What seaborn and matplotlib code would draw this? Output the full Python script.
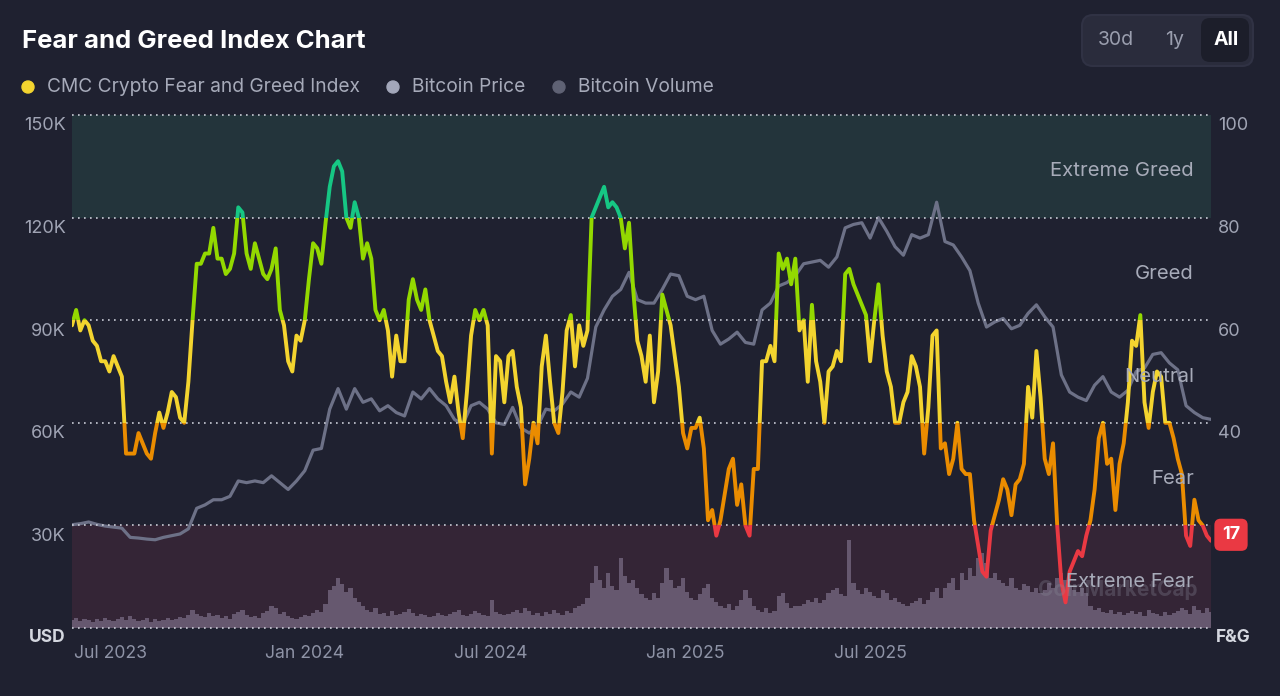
import matplotlib
matplotlib.use("Agg")
import matplotlib.pyplot as plt
import matplotlib.transforms as mtransforms
from matplotlib.patches import Rectangle, FancyBboxPatch, Circle
import pandas as pd
import seaborn as sns

# ---- data ----
start_date = "2023-06-29"

# CMC Crypto Fear and Greed Index, one reading every 4 days
fear_greed = [
    59, 62, 58, 60, 59, 56, 55, 52, 52, 50, 53, 51, 49, 34, 34, 34, 38, 36, 34, 33,
    38, 42, 39, 42, 46, 45, 41, 40, 48, 60, 71, 71, 73, 73, 78, 72,
    72, 69, 70, 73, 82, 81, 73, 70, 75, 72, 69, 68, 70, 74, 62, 59, 52, 50, 57, 56,
    60, 68, 75, 74, 71, 79, 86, 90, 91, 89, 80, 78, 83, 80, 72,
    75, 72, 62, 60, 62, 58, 49, 57, 52, 52, 64, 68, 64, 62, 66, 60, 57, 54, 53, 48,
    44, 49, 42, 37, 46, 57, 62, 60, 62, 59, 34, 53, 52, 44,
    53, 54, 47, 43, 28, 33, 40, 36, 51, 57, 48, 40, 38, 46, 58, 61, 51, 59, 55, 58,
    80, 82, 84, 86, 82, 83, 82, 80, 74, 79, 66, 56, 53, 48, 57,
    44, 50, 65, 62, 59, 53, 47, 38, 35, 39, 39, 41, 35, 21, 23, 18, 21, 26, 31, 33,
    24, 28, 20, 18, 31, 31, 52, 52, 55, 52, 73, 70, 72, 67, 72,
    58, 60, 48, 63, 52, 48, 40, 50, 51, 54, 52, 69, 70, 67, 65, 63, 61, 52, 60, 67,
    57, 50, 47, 40, 40, 44, 46, 53, 51, 47, 34, 43, 57, 58, 35,
    36, 30, 33, 40, 31, 30, 30, 21, 16, 11, 10, 19, 22, 25, 29, 27, 22, 28, 29, 32,
    47, 41, 54, 45, 33, 30, 36, 20, 9, 5, 11, 13, 15, 14, 18,
    21, 27, 37, 40, 32, 33, 23, 32, 36, 44, 56, 55, 61, 44, 39, 46, 50, 49, 40, 40,
    37, 33, 30, 18, 16, 25, 21, 20, 18, 17,
]

# Bitcoin price in thousands of USD, one reading every 8 days
btc_price_k = [
    30.2, 30.5, 31.0, 30.3, 29.8, 29.5, 29.2, 26.5, 26.3, 26.0, 25.8, 26.5, 27.0, 27.5,
    29.0, 35.0, 36.0, 37.5,
    37.5, 38.5, 43, 42.5, 43, 42.5, 44.5, 42.5, 40.5, 43, 46, 52, 52.5, 64, 70, 64, 70, 66,
    67, 63.5, 65, 63, 62, 69, 67, 70, 67, 65, 61, 59.5, 65, 66, 64, 60, 59.5,
    64.5, 58.5, 57, 59, 64, 63.5, 65.5, 69, 67.5, 73, 88, 93, 97, 99, 104, 96, 95,
    95, 99, 103.5, 103, 97, 96, 97, 87, 83, 84.5, 86.5, 83.5, 83, 93, 95, 100, 101, 103,
    106.5, 107, 107.5, 105.5, 108.5, 117, 118, 118.5, 114, 120, 116, 111.5, 109, 115,
    114, 115, 124.5, 113,
    112, 108.5, 104.5, 95, 88, 89.5, 90.5, 87.5, 88.5, 92, 94.5, 91, 88, 74, 69, 67.5, 66.5,
    71, 73.5, 69, 67.5, 69.5, 75, 76, 80, 80.5, 77.5, 75.5, 65, 63, 61.5, 61,
]

# Bitcoin volume in billions of USD, one reading every 4 days
btc_volume_b = [
    8, 10, 7, 9, 8, 6, 9, 7, 10, 8, 7, 9, 11, 8, 12, 9, 7, 8, 10, 6, 9, 7, 8, 10, 8, 9,
    11, 10, 13, 18, 14, 12, 11, 15, 12, 13,
    10, 12, 9, 14, 16, 18, 13, 11, 12, 10, 15, 17, 22, 20, 14, 16, 12, 10, 9, 11, 13,
    12, 15, 18, 16, 24, 38, 42, 50, 44, 36, 40, 30, 26, 22,
    18, 16, 20, 14, 15, 12, 17, 13, 14, 16, 19, 15, 12, 14, 13, 11, 12, 15, 13, 12, 14,
    16, 18, 13, 12, 14, 17, 15, 13, 12, 28, 16, 14, 13,
    14, 16, 18, 15, 20, 17, 13, 15, 12, 16, 14, 18, 15, 13, 17, 15, 20, 22, 24, 30, 45,
    62, 48, 40, 55, 42, 38, 70, 52, 45, 48, 40, 34, 30, 28,
    35, 30, 45, 60, 48, 40, 42, 50, 36, 30, 28, 34, 40, 44, 30, 26, 22, 20, 24, 18, 22,
    28, 38, 30, 22, 18, 16, 20, 15, 17, 32, 35, 25, 20, 22,
    22, 24, 28, 26, 30, 25, 28, 35, 38, 40, 34, 32, 88, 45, 38, 34, 40, 36, 32, 30, 38,
    35, 28, 30, 26, 24, 22, 25, 27, 30, 24, 28, 36, 40, 30,
    40, 45, 50, 38, 55, 48, 60, 52, 70, 75, 65, 50, 55, 48, 45, 42, 50, 40, 38, 44, 42,
    36, 40, 35, 38, 45, 40, 50, 55, 48, 42, 38, 36, 40, 35,
    22, 18, 20, 16, 15, 18, 14, 16, 13, 15, 17, 14, 16, 12, 18, 15, 14, 12, 16, 13, 15,
    17, 20, 18, 14, 22, 18, 15, 20, 16,
]

tick_dates = ["2023-07-01", "2024-01-01", "2024-07-01", "2025-01-01", "2025-07-01"]
tick_labels = ["Jul 2023", "Jan 2024", "Jul 2024", "Jan 2025", "Jul 2025"]
price_ticks = [30, 60, 90, 120, 150]
fg_ticks = [20, 40, 60, 80, 100]
fg_tick_labels = [40, 60, 80, 100]   # the 20 label sits under the value badge
zone_names = ["Extreme Fear", "Fear", "Neutral", "Greed", "Extreme Greed"]
zone_bounds = [0, 20, 40, 60, 80, 100]
zone_colors = ["#ea3943", "#ea8c00", "#f3d42f", "#93d900", "#16c784"]

# ---- style ----
BG = "#1f2130"
W, H = 1280, 696
sns.set_theme(style="dark", rc={
    "figure.facecolor": BG, "axes.facecolor": BG, "savefig.facecolor": BG,
    "axes.edgecolor": BG, "text.color": "white",
})
plt.rcParams["font.family"] = ["Inter", "DejaVu Sans"]

fg_dates = pd.date_range(start_date, periods=len(fear_greed), freq="4D")
vol_dates = pd.date_range(start_date, periods=len(btc_volume_b), freq="4D")
price_dates = pd.date_range(start_date, periods=len(btc_price_k), freq="8D")

fig = plt.figure(figsize=(W / 100, H / 100), dpi=100)
ax = fig.add_axes([72 / W, 1 - 628 / H, (1211 - 72) / W, (628 - 115) / H])
ax_vol = ax.twinx()
ax_price = ax.twinx()
ax_fg = ax.twinx()

for a in (ax, ax_vol, ax_price, ax_fg):
    for s in a.spines.values():
        s.set_visible(False)
    a.set_yticks([])
    a.set_ylabel("")

ax.set_xlim(fg_dates[0], fg_dates[-1])
ax.set_ylim(0, 100)
ax_fg.set_ylim(0, 100)
ax_price.set_ylim(0, 150)
ax_vol.set_ylim(0, 513)

# zone backgrounds
ax.axhspan(80, 100, color="#23343b", lw=0, zorder=0)
ax.axhspan(0, 20, color="#342536", lw=0, zorder=0)

# volume bars
ax_vol.bar(vol_dates, btc_volume_b, width=4, color="#66586f", lw=0, zorder=1)

# bitcoin price
sns.lineplot(x=price_dates, y=btc_price_k, color="#6d7187", linewidth=2.3, ax=ax_price)

# gridlines
for v in [0] + fg_ticks:
    ax_fg.axhline(v, color="#c9ccd6", lw=1.2, ls=(0, (1, 2.6)), clip_on=False, zorder=1)

# fear & greed line, coloured by zone
clip_tr = mtransforms.blended_transform_factory(ax_fg.transAxes, ax_fg.transData)
for lo, hi, c in zip(zone_bounds[:-1], zone_bounds[1:], zone_colors):
    sns.lineplot(x=fg_dates, y=fear_greed, color=c, linewidth=2.8, ax=ax_fg, zorder=4)
    line = ax_fg.lines[-1]
    line.set_clip_path(Rectangle((0, lo), 1, hi - lo, transform=clip_tr))
    line.set_solid_joinstyle("round")

for a in (ax_vol, ax_price, ax_fg):
    a.set_xlabel("")
    a.set_ylabel("")

# zone labels
for name, lo, hi in zip(zone_names, zone_bounds[:-1], zone_bounds[1:]):
    ax_fg.annotate(name, xy=(1, (lo + hi) / 2 - 1), xycoords=("axes fraction", "data"),
                   xytext=(-17, 0), textcoords="offset pixels", ha="right", va="center",
                   fontsize=14.6, color="#a7abb9", zorder=6)

# watermark
ax_fg.annotate("CoinMarketCap", xy=(1, 9), xycoords=("axes fraction", "data"),
               xytext=(-13, -8), textcoords="offset pixels", ha="right", va="center",
               fontsize=15, fontweight="bold", color="#8a8a9a", alpha=0.3, zorder=5)

# axis labels
for p in price_ticks:
    ax_price.annotate(f"{p}K", xy=(0, p), xycoords=("axes fraction", "data"),
                      xytext=(-6, -11), textcoords="offset pixels", ha="right", va="center",
                      fontsize=13, color="#a0a4b4")
for v in fg_tick_labels:
    ax_fg.annotate(str(v), xy=(1, v), xycoords=("axes fraction", "data"),
                   xytext=(7, -11), textcoords="offset pixels", ha="left", va="center",
                   fontsize=13, color="#a0a4b4")
ax.annotate("USD", xy=(0, 0), xycoords="axes fraction", xytext=(-6, -9),
            textcoords="offset pixels", ha="right", va="center", fontsize=12.5,
            fontweight="bold", color="#d4d7df")
ax.annotate("F&G", xy=(1, 0), xycoords="axes fraction", xytext=(5, -9),
            textcoords="offset pixels", ha="left", va="center", fontsize=12.5,
            fontweight="bold", color="#d4d7df")

ax.set_xticks(pd.to_datetime(tick_dates))
ax.set_xticklabels(tick_labels, ha="left")
ax.tick_params(axis="x", length=0, pad=12, labelsize=12.7, labelcolor="#8e93a6")
ax.tick_params(axis="y", length=0)

# current value badge
ax_fg.annotate(str(fear_greed[-1]), xy=(1, fear_greed[-1]), xycoords=("axes fraction", "data"),
               xytext=(20, 6), textcoords="offset pixels", ha="center", va="center",
               fontsize=13, fontweight="bold", color="white", zorder=10,
               bbox=dict(boxstyle="round,pad=0.42,rounding_size=0.35", fc="#ea3943", ec="none"))

# ---- header ----
ident = mtransforms.IdentityTransform()
fig.text(22 / W, 1 - 41 / H, "Fear and Greed Index Chart", ha="left", va="center",
         fontsize=18.5, fontweight="bold", color="white")

legend_items = [("CMC Crypto Fear and Greed Index", "#f3d42f", 28),
                ("Bitcoin Price", "#a3a7ba", 393),
                ("Bitcoin Volume", "#5f6274", 559)]
for label, col, x in legend_items:
    fig.add_artist(Circle((x, H - 87), 6, transform=ident, color=col))
    fig.text((x + 19) / W, 1 - 87 / H, label, ha="left", va="center",
             fontsize=13.8, color="#a6aab9")

fig.add_artist(FancyBboxPatch((1082, H - 66), 171, 51, transform=ident,
                              boxstyle="round,pad=0,rounding_size=11",
                              fc="#2a2c3c", ec="#303244", lw=1.5))
fig.add_artist(FancyBboxPatch((1201, H - 62), 48, 44, transform=ident,
                              boxstyle="round,pad=0,rounding_size=9",
                              fc="#1c1e2a", ec="none"))
for label, x, col, w in [("30d", 1116, "#9a9eae", "normal"), ("1y", 1174, "#9a9eae", "normal"),
                         ("All", 1226, "white", "bold")]:
    fig.text(x / W, 1 - 40 / H, label, ha="center", va="center", fontsize=14,
             color=col, fontweight=w)

fig.savefig("out.png", dpi=100, facecolor=BG)
